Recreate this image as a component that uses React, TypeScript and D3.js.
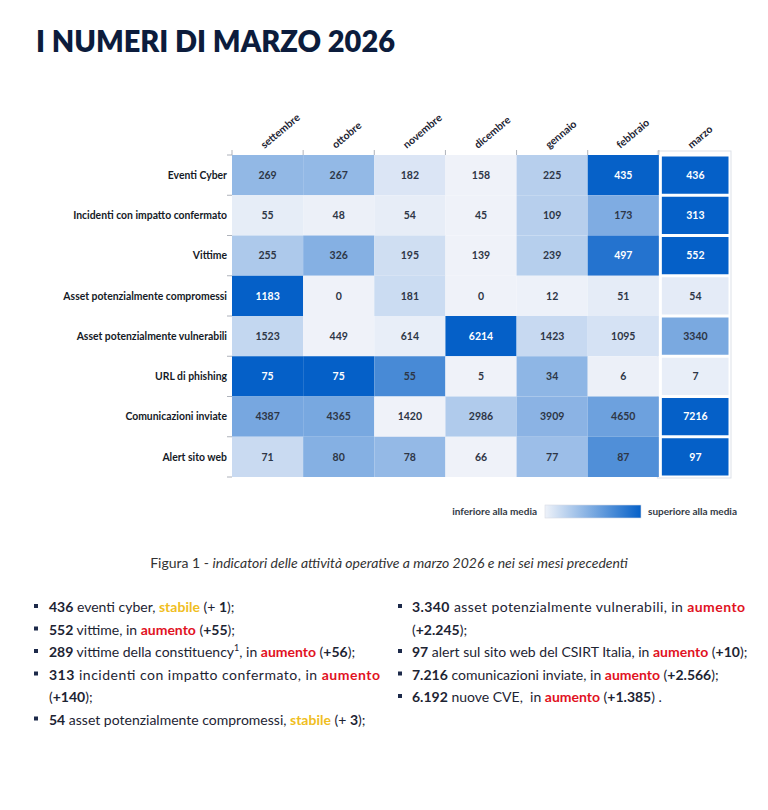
import React from "react";
import * as d3 from "d3";

const months = ["settembre", "ottobre", "novembre", "dicembre", "gennaio", "febbraio", "marzo"];
const indicators = [
  "Eventi Cyber",
  "Incidenti con impatto confermato",
  "Vittime",
  "Asset potenzialmente compromessi",
  "Asset potenzialmente vulnerabili",
  "URL di phishing",
  "Comunicazioni inviate",
  "Alert sito web",
];
const eventiCyber = [269, 267, 182, 158, 225, 435, 436];
const incidenti = [55, 48, 54, 45, 109, 173, 313];
const vittime = [255, 326, 195, 139, 239, 497, 552];
const assetCompromessi = [1183, 0, 181, 0, 12, 51, 54];
const assetVulnerabili = [1523, 449, 614, 6214, 1423, 1095, 3340];
const urlPhishing = [75, 75, 55, 5, 34, 6, 7];
const comunicazioni = [4387, 4365, 1420, 2986, 3909, 4650, 7216];
const alertSito = [71, 80, 78, 66, 77, 87, 97];
const rows = [eventiCyber, incidenti, vittime, assetCompromessi, assetVulnerabili, urlPhishing, comunicazioni, alertSito];

const title = "I NUMERI DI MARZO 2026";
const legendLow = "inferiore alla media";
const legendHigh = "superiore alla media";
const captionLead = "Figura 1 - ";
const captionRest = "indicatori delle attività operative a marzo 2026 e nei sei mesi precedenti";

type Seg = { t: string; b?: boolean; c?: "s" | "a"; sup?: boolean };
type Line = { segs: Seg[]; justify?: boolean };
const leftBullets: Line[][] = [
  [{ segs: [{ t: "436", b: true }, { t: " eventi cyber, " }, { t: "stabile", b: true, c: "s" }, { t: " (+ " }, { t: "1", b: true }, { t: ");" }] }],
  [{ segs: [{ t: "552", b: true }, { t: " vittime, in " }, { t: "aumento", b: true, c: "a" }, { t: " (" }, { t: "+55", b: true }, { t: ");" }] }],
  [{ segs: [{ t: "289", b: true }, { t: " vittime della constituency" }, { t: "1", sup: true }, { t: ", in " }, { t: "aumento", b: true, c: "a" }, { t: " (" }, { t: "+56", b: true }, { t: ");" }] }],
  [
    { segs: [{ t: "313", b: true }, { t: " incidenti con impatto confermato, in " }, { t: "aumento", b: true, c: "a" }], justify: true },
    { segs: [{ t: "(" }, { t: "+140", b: true }, { t: ");" }] },
  ],
  [{ segs: [{ t: "54", b: true }, { t: " asset potenzialmente compromessi, " }, { t: "stabile", b: true, c: "s" }, { t: " (+ " }, { t: "3", b: true }, { t: ");" }] }],
];
const rightBullets: Line[][] = [
  [
    { segs: [{ t: "3.340", b: true }, { t: " asset potenzialmente vulnerabili, in " }, { t: "aumento", b: true, c: "a" }], justify: true },
    { segs: [{ t: "(" }, { t: "+2.245", b: true }, { t: ");" }] },
  ],
  [{ segs: [{ t: "97", b: true }, { t: " alert sul sito web del CSIRT Italia, in " }, { t: "aumento", b: true, c: "a" }, { t: " (" }, { t: "+10", b: true }, { t: ");" }] }],
  [{ segs: [{ t: "7.216", b: true }, { t: " comunicazioni inviate, in " }, { t: "aumento", b: true, c: "a" }, { t: " (" }, { t: "+2.566", b: true }, { t: ");" }] }],
  [{ segs: [{ t: "6.192", b: true }, { t: " nuove CVE,  in " }, { t: "aumento", b: true, c: "a" }, { t: " (" }, { t: "+1.385", b: true }, { t: ") ." }] }],
];

const W = 768;
const H = 810;
const FONT = "Lato, 'Open Sans', sans-serif";
const TEXT = "#1d2433";

export default function App() {
  const x = d3.scaleBand<string>().domain(months).range([232, 730]).padding(0);
  const y = d3.scaleBand<string>().domain(indicators).range([155, 477]).padding(0);
  const color = d3.interpolateRgb("#eff2f9", "#0560c8");
  const last = months[months.length - 1];

  const cells: React.ReactNode[] = [];
  rows.forEach((vals, ri) => {
    const [mn, mx] = d3.extent(vals) as [number, number];
    const norm = d3.scaleLinear().domain([mn, mx]).range([0, 1]);
    vals.forEach((v, ci) => {
      const m = months[ci];
      const t = norm(v);
      const isLast = m === last;
      const inset = isLast ? 1.5 : 0;
      const x0 = (x(m) as number) + inset + (isLast ? 1.5 : 0);
      const y0 = (y(indicators[ri]) as number) + inset;
      const w = x.bandwidth() - inset * 2 - (isLast ? 1.5 : 0);
      const h = y.bandwidth() - inset * 2;
      cells.push(
        <g key={`${ri}-${ci}`}>
          <rect x={x0} y={y0} width={w} height={h} fill={color(t)} />
          <text
            x={(x(m) as number) + x.bandwidth() / 2 + (isLast ? 1 : 0)}
            y={(y(indicators[ri]) as number) + y.bandwidth() / 2}
            dy="0.35em"
            textAnchor="middle"
            fontSize={10.5}
            fontWeight={700}
            fill={t > 0.8 ? "#ffffff" : "#2d3646"}
          >
            {v}
          </text>
        </g>
      );
    });
  });

  const lineStep = 22.5;
  const baseY = 612;

  const renderCol = (items: Line[][], bx: number, tx: number, rightEdge: number) => {
    const out: React.ReactNode[] = [];
    let li = 0;
    items.forEach((item, ii) => {
      item.forEach((line, k) => {
        const yy = baseY + li * lineStep;
        if (k === 0) {
          out.push(<rect key={`b${ii}`} x={bx} y={yy - 8} width={4} height={4} fill="#1d2a4a" />);
        }
        out.push(
          <text
            key={`l${ii}-${k}`}
            x={tx}
            y={yy}
            fontSize={14}
            fill={TEXT}
            xmlSpace="preserve"
            style={{ whiteSpace: "pre" }}
            {...(line.justify ? { textLength: rightEdge - tx, lengthAdjust: "spacing" } : {})}
          >
            {line.segs.map((s, si) => (
              <tspan
                key={si}
                fontWeight={s.b ? 700 : 400}
                fill={s.c === "s" ? "#f0be22" : s.c === "a" ? "#e1121f" : TEXT}
                fontSize={s.sup ? 9 : undefined}
                dy={s.sup ? -6 : si > 0 && line.segs[si - 1].sup ? 6 : undefined}
              >
                {s.t}
              </tspan>
            ))}
          </text>
        );
        li++;
      });
    });
    return out;
  };

  return (
    <svg
      width={W}
      height={H}
      style={{ position: "absolute", left: 0, top: 0, background: "#fff", fontFamily: FONT }}
    >
      <rect width={W} height={H} fill="#fff" />
      <text x={36} y={52} fontSize={30} fontWeight={800} fill="#0c1c3c" textLength={359} lengthAdjust="spacingAndGlyphs">
        {title}
      </text>

      {/* marzo column outline */}
      <rect
        x={(x(last) as number) - 1.5}
        y={151}
        width={x.bandwidth() + 2.5}
        height={478 - 151}
        fill="none"
        stroke="#dde1e8"
        strokeWidth={1}
      />

      {cells}

      {/* top ticks */}
      {months.map((m) => (
        <line key={`tt${m}`} x1={x(m) as number} x2={x(m) as number} y1={150} y2={155} stroke="#9aa0aa" strokeWidth={0.8} />
      ))}
      {/* left ticks */}
      {indicators.concat([""]).map((r, i) => {
        const yy = 155 + i * y.bandwidth();
        return <line key={`lt${i}`} x1={227} x2={232} y1={yy} y2={yy} stroke="#9aa0aa" strokeWidth={0.8} />;
      })}

      {/* column labels */}
      {months.map((m) => {
        const cx = (x(m) as number) + x.bandwidth() / 2 - 3;
        return (
          <text
            key={`cl${m}`}
            transform={`translate(${cx},149) rotate(-40)`}
            fontSize={10.5}
            fontWeight={700}
            fill="#1d2433"
          >
            {m}
          </text>
        );
      })}

      {/* row labels */}
      {indicators.map((r) => (
        <text
          key={`rl${r}`}
          x={227}
          y={(y(r) as number) + y.bandwidth() / 2}
          dy="0.35em"
          textAnchor="end"
          fontSize={10.4}
          fontWeight={700}
          fill="#151a26"
        >
          {r}
        </text>
      ))}

      {/* legend */}
      <defs>
        <linearGradient id="lg" x1="0" x2="1" y1="0" y2="0">
          <stop offset="0" stopColor="#eef2f9" />
          <stop offset="1" stopColor="#0560c8" />
        </linearGradient>
      </defs>
      <text x={537} y={515} textAnchor="end" fontSize={10} fontWeight={700} fill="#333a46">
        {legendLow}
      </text>
      <rect x={545} y={505} width={96} height={13} fill="url(#lg)" stroke="#d6dbe4" strokeWidth={0.6} />
      <text x={648} y={515} fontSize={10} fontWeight={700} fill="#333a46">
        {legendHigh}
      </text>

      {/* caption */}
      <text x={389} y={568} textAnchor="middle" fontSize={14} fill="#333">
        <tspan>{captionLead}</tspan>
        <tspan fontStyle="italic">{captionRest}</tspan>
      </text>

      {renderCol(leftBullets, 34, 49, 380)}
      {renderCol(rightBullets, 398, 412, 745)}
    </svg>
  );
}
